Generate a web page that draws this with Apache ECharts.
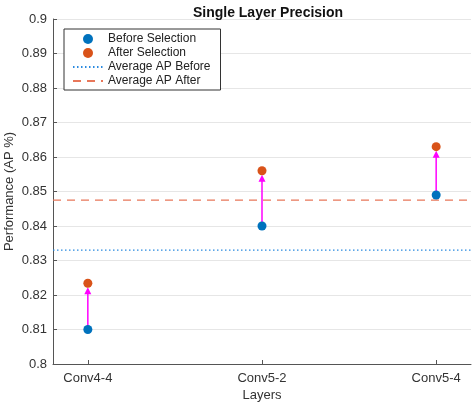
<!DOCTYPE html>
<html>
<head>
    <meta charset="UTF-8">
    <title>Single Layer Precision</title>
    <script src="https://cdn.jsdelivr.net/npm/echarts@6/dist/echarts.min.js"></script>
</head>
<body style="margin:0">
<div id="chart" style="width: 474px; height: 405px;"></div>

<script>
    const layers = ['Conv4-4', 'Conv5-2', 'Conv5-4'];
    const beforeAP = [0.810, 0.840, 0.849];
    const afterAP = [0.8234, 0.856, 0.863];
    const avgBefore = 0.833;
    const avgAfter = 0.8475;
    const xRange = [-0.2, 2.2];

    const font = 'Liberation Sans, Arial, sans-serif';
    const chart = echarts.init(document.getElementById('chart'));

    const option = {
        animation: false,
        textStyle: { fontFamily: font },
        title: {
            text: 'Single Layer Precision',
            left: 263, top: 1, textAlign: 'center',
            textStyle: { fontSize: 14, fontWeight: 'bold', color: '#111', fontFamily: font }
        },
        grid: { left: 53, right: 3, top: 19, bottom: 41, outerBoundsMode: 'none' },
        legend: {
            orient: 'vertical',
            left: 64, top: 29,
            padding: [4, 10, 3, 8],
            itemGap: 2,
            itemWidth: 30, itemHeight: 10,
            borderColor: '#333', borderWidth: 1,
            backgroundColor: '#fff',
            textStyle: { fontSize: 12, color: '#222' },
            data: [
                { name: 'Before Selection', icon: 'circle' },
                { name: 'After Selection', icon: 'circle' },
                { name: 'Average AP Before', itemStyle: { opacity: 0 } },
                { name: 'Average AP After', itemStyle: { opacity: 0 } }
            ]
        },
        xAxis: {
            type: 'value',
            min: xRange[0], max: xRange[1],
            name: 'Layers', nameLocation: 'middle', nameGap: 25,
            nameMoveOverlap: false,
            nameTextStyle: { fontSize: 13, color: '#333' },
            axisLine: { onZero: false, lineStyle: { color: '#555' } },
            axisTick: { inside: true, length: 4, customValues: [0, 1, 2], lineStyle: { color: '#555' } },
            axisLabel: {
                customValues: [0, 1, 2], fontSize: 13, color: '#333', margin: 8,
                formatter: v => layers[Math.round(v)]
            },
            splitLine: { show: false }
        },
        yAxis: {
            type: 'value',
            min: 0.8, max: 0.9, interval: 0.01,
            name: 'Performance (AP %)', nameLocation: 'middle', nameGap: 37,
            nameMoveOverlap: false,
            nameTextStyle: { fontSize: 13, color: '#333', padding: [0, 0, 0, 0] },
            axisLine: { show: true, onZero: false, lineStyle: { color: '#555' } },
            axisTick: { show: true, inside: true, length: 4, lineStyle: { color: '#555' } },
            axisLabel: { fontSize: 13, color: '#333', margin: 6, formatter: v => String(+v.toFixed(2)) },
            splitLine: { lineStyle: { color: '#e6e6e6' } }
        },
        series: [
            {
                name: 'Average AP Before',
                type: 'line',
                symbol: 'none',
                data: xRange.map(x => [x, avgBefore]),
                lineStyle: { color: '#2a8ae0', width: 1.4, type: [1.5, 2.5] },
                itemStyle: { color: '#2a8ae0' },
                z: 1
            },
            {
                name: 'Average AP After',
                type: 'line',
                symbol: 'none',
                data: xRange.map(x => [x, avgAfter]),
                lineStyle: { color: '#e8775a', width: 1.2, type: [8, 6] },
                itemStyle: { color: '#e8775a' },
                z: 1
            },
            {
                name: 'arrows',
                type: 'custom',
                data: layers.map((l, i) => [i, beforeAP[i], afterAP[i]]),
                encode: { x: 0, y: [1, 2] },
                renderItem: function (params, api) {
                    const p0 = api.coord([api.value(0), api.value(1)]);
                    const p1 = api.coord([api.value(0), api.value(2)]);
                    const tipY = p1[1] + 4;
                    return {
                        type: 'group',
                        children: [
                            {
                                type: 'line',
                                shape: { x1: p0[0], y1: p0[1], x2: p1[0], y2: tipY + 6 },
                                style: { stroke: '#ff00ff', lineWidth: 1.5 }
                            },
                            {
                                type: 'polygon',
                                shape: { points: [[p1[0], tipY], [p1[0] - 3.5, tipY + 7], [p1[0] + 3.5, tipY + 7]] },
                                style: { fill: '#ff00ff' }
                            }
                        ]
                    };
                },
                z: 2
            },
            {
                name: 'Before Selection',
                type: 'scatter',
                symbolSize: 9,
                data: layers.map((l, i) => [i, beforeAP[i]]),
                itemStyle: { color: '#0072BD', opacity: 1 },
                z: 3
            },
            {
                name: 'After Selection',
                type: 'scatter',
                symbolSize: 9,
                data: layers.map((l, i) => [i, afterAP[i]]),
                itemStyle: { color: '#D95319', opacity: 1 },
                z: 3
            }
        ]
    };

    chart.setOption(option);
</script>
</body>
</html>
